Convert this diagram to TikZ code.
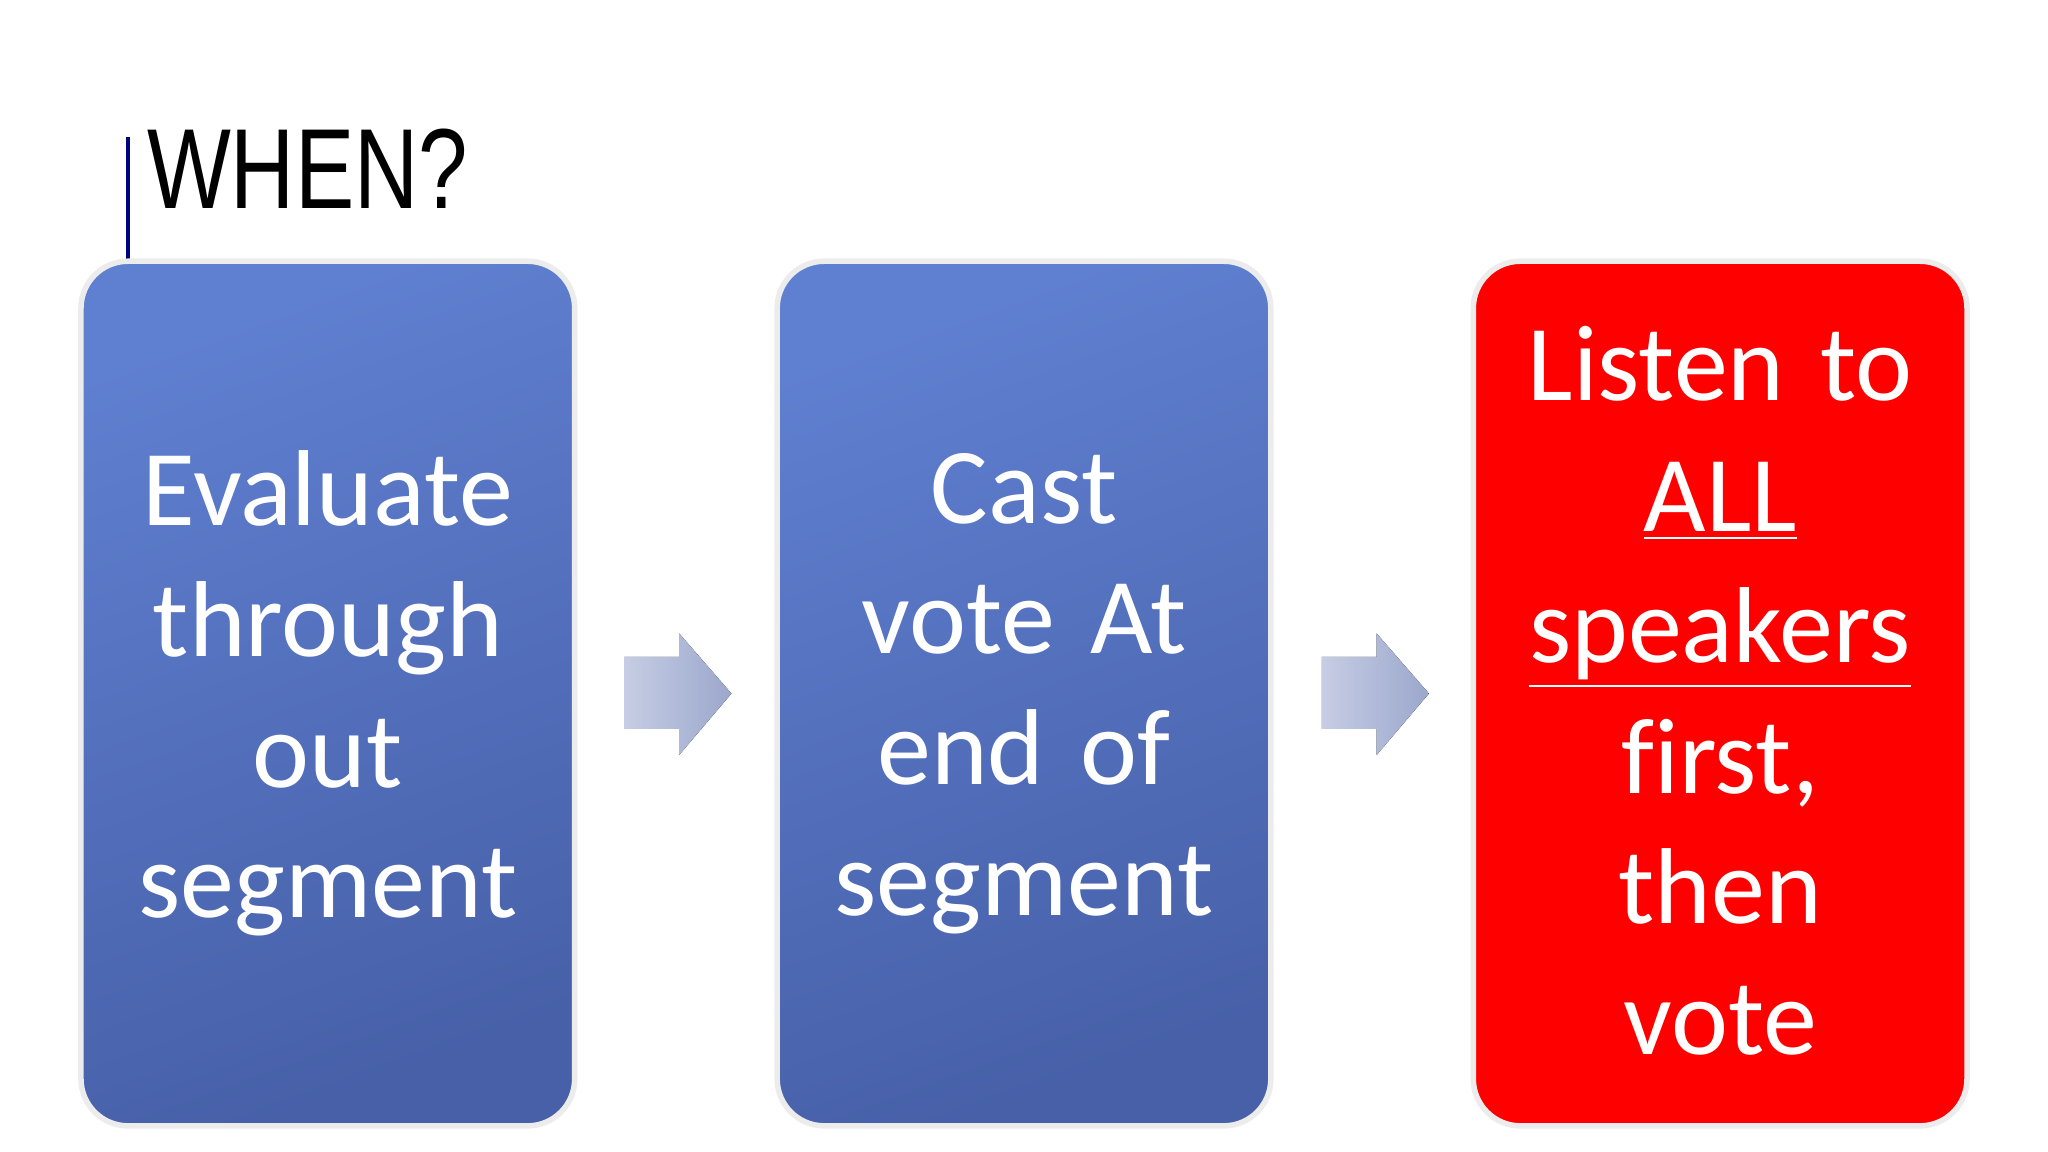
\documentclass[tikz,border=0pt]{standalone}
\usepackage{fontspec}
\setmainfont[Ligatures=NoCommon]{Carlito}
\newfontfamily\whenfont{Liberation Sans}
\definecolor{btop}{HTML}{5F7FD0}
\definecolor{bbot}{HTML}{4760A8}
\definecolor{atop}{HTML}{C6CDE4}
\definecolor{abot}{HTML}{9BA7CC}
\begin{document}
\begin{tikzpicture}[x=0.01cm,y=-0.01cm,
  stepbox/.style={rounded corners=0.36cm, draw=white!85!gray, line width=1.2pt},
  boxtext/.style={text=white, align=center, text width=3.6cm, font=\fontsize{23.5}{28.45}\selectfont},
  arr/.style={left color=atop, right color=abot, draw=none}]
\useasboundingbox (0,0) rectangle (1568,882);
\fill[white] (0,0) rectangle (1568,882);
\draw[blue!50!black, line width=0.8pt] (98,105) -- (98,198);
\node[anchor=base west, inner sep=0, font=\whenfont\fontsize{24.8}{28}\selectfont, xscale=0.78] (when) at (112,160) {WHEN?};
\shade[stepbox, top color=btop, bottom color=bbot, shading angle=20] (62,200) rectangle (440,862);
\node[boxtext] (b1) at (251,531) {Evaluate\\through\\out\\segment};
\shade[stepbox, top color=btop, bottom color=bbot, shading angle=20] (595,200) rectangle (973,862);
\node[boxtext] (b2) at (784,531) {Cast\\vote At\\end of\\segment};
\filldraw[stepbox, fill=red] (1128,200) rectangle (1506,862);
\node[boxtext] (b3) at (1317,529) {Listen to\\\underline{ALL}\\\underline{speakers}\\first,\\then\\vote};
\fill[arr] (478,503) -- (520,503) -- (520,485) -- (560,531) -- (520,578) -- (520,558) -- (478,558) -- cycle;
\fill[arr] (1012,503) -- (1054,503) -- (1054,485) -- (1094,531) -- (1054,578) -- (1054,558) -- (1012,558) -- cycle;
\end{tikzpicture}
\end{document}
